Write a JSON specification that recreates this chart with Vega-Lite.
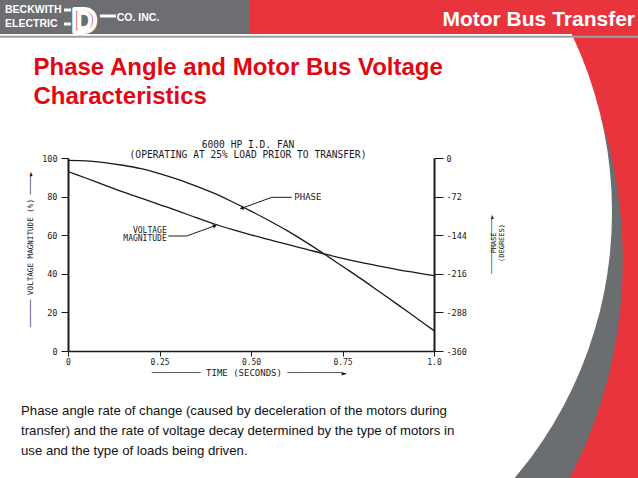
{
  "$schema": "https://vega.github.io/schema/vega-lite/v6.json",
  "width": 366,
  "height": 193,
  "autosize": "none",
  "padding": {"left": 68, "top": 158, "right": 204, "bottom": 127},
  "background": "#e8343c",
  "config": {"view": {"stroke": null}},
  "datasets": {
    "curves": [
      {"t": 0.0, "voltage": 93.0, "phase": -4.5},
      {"t": 0.05, "voltage": 89.5, "phase": -5.5},
      {"t": 0.1, "voltage": 86.0, "phase": -8.5},
      {"t": 0.15, "voltage": 82.5, "phase": -13.5},
      {"t": 0.2, "voltage": 79.2, "phase": -20},
      {"t": 0.25, "voltage": 75.9, "phase": -29},
      {"t": 0.3, "voltage": 72.6, "phase": -40},
      {"t": 0.35, "voltage": 69.1, "phase": -52.5},
      {"t": 0.4, "voltage": 65.8, "phase": -66},
      {"t": 0.45, "voltage": 62.9, "phase": -82},
      {"t": 0.5, "voltage": 60.2, "phase": -99},
      {"t": 0.55, "voltage": 57.7, "phase": -117},
      {"t": 0.6, "voltage": 55.2, "phase": -136},
      {"t": 0.65, "voltage": 52.8, "phase": -157},
      {"t": 0.7, "voltage": 50.3, "phase": -179},
      {"t": 0.75, "voltage": 48.0, "phase": -202},
      {"t": 0.8, "voltage": 45.9, "phase": -225},
      {"t": 0.85, "voltage": 44.0, "phase": -249},
      {"t": 0.9, "voltage": 42.2, "phase": -273},
      {"t": 0.95, "voltage": 40.6, "phase": -297.5},
      {"t": 1.0, "voltage": 39.0, "phase": -322}
    ],
    "leaders": [
      {"leader": "phase", "t": 0.4746, "v": 73.93},
      {"leader": "phase", "t": 0.5566, "v": 79.63},
      {"leader": "phase", "t": 0.6112, "v": 79.63},
      {"leader": "voltage", "t": 0.274, "v": 59.59},
      {"leader": "voltage", "t": 0.3243, "v": 59.59},
      {"leader": "voltage", "t": 0.4016, "v": 64.92}
    ],
    "tips": [
      {"leader": "phase", "t": 0.4746, "v": 73.93},
      {"leader": "voltage", "t": 0.4016, "v": 64.92}
    ]
  },
  "layer": [
    {
      "layer": [
        {
          "data": {"name": "curves"},
          "mark": {"type": "line", "color": "#1a1a1a", "strokeWidth": 1.3, "interpolate": "monotone", "opacity": 0},
          "encoding": {
            "x": {
              "field": "t",
              "type": "quantitative",
              "scale": {"domain": [0, 1], "nice": false, "zero": false},
              "axis": {
                "values": [0, 0.25, 0.5, 0.75, 1],
                "labelExpr": "datum.value == 0 ? '0' : datum.value == 1 ? '1.0' : format(datum.value, '.2f')",
                "labelFlush": false,
                "labelOverlap": false,
                "labelFont": "DejaVu Sans Mono",
                "labelFontSize": 8,
                "labelColor": "#1a1a1a",
                "labelPadding": 2,
                "tickSize": 5,
                "tickColor": "#1a1a1a",
                "domainColor": "#1a1a1a",
                "domainWidth": 1.5,
                "grid": false,
                "zindex": 1,
                "title": "───────── TIME (SECONDS) ──────────►",
                "titleFont": "DejaVu Sans Mono",
                "titleFontSize": 9,
                "titleFontWeight": "normal",
                "titleColor": "#1a1a1a",
                "titleX": 180.9,
                "titleY": 21,
                "titleAlign": "center",
                "titleBaseline": "middle"
              }
            },
            "y": {
              "field": "voltage",
              "type": "quantitative",
              "scale": {"domain": [0, 100], "nice": false, "zero": false},
              "axis": null
            }
          }
        },
        {
          "data": {"values": [{}]},
          "mark": {"type": "point", "shape": "circle", "filled": true, "size": 901740, "color": "#6b6e71", "opacity": 1, "strokeWidth": 0},
          "encoding": {
            "x": {"datum": 0.2186, "type": "quantitative"},
            "y": {"datum": 47.15, "type": "quantitative", "axis": null}
          }
        },
        {
          "data": {"values": [{}]},
          "mark": {"type": "point", "shape": "circle", "filled": true, "size": 678976, "color": "#ffffff", "opacity": 1, "strokeWidth": 0},
          "encoding": {
            "x": {"datum": 0.3607, "type": "quantitative"},
            "y": {"datum": 72.02, "type": "quantitative", "axis": null}
          }
        },
        {
          "data": {"values": [{}]},
          "mark": {"type": "rect", "color": "#e8343c"},
          "encoding": {
            "x": {"datum": -0.2, "type": "quantitative"},
            "x2": {"datum": 1.6},
            "y": {"datum": 185, "type": "quantitative", "axis": null},
            "y2": {"datum": 164.25}
          }
        },
        {
          "data": {"values": [{}]},
          "mark": {"type": "rect", "color": "#6d6e71"},
          "encoding": {
            "x": {"datum": -0.2, "type": "quantitative"},
            "x2": {"datum": 0.4973},
            "y": {"datum": 185, "type": "quantitative", "axis": null},
            "y2": {"datum": 164.25}
          }
        },
        {
          "data": {"values": [{}]},
          "mark": {"type": "rule", "color": "#9d9fa2", "strokeWidth": 2},
          "encoding": {
            "x": {"datum": -0.2, "type": "quantitative"},
            "x2": {"datum": 1.6},
            "y": {"datum": 162.85, "type": "quantitative", "axis": null}
          }
        },
        {
          "data": {"values": [{"y": 176.68, "x0": -0.0109, "x1": 0.0082}, {"y": 169.43, "x0": -0.0109, "x1": 0.0082}, {"y": 173.58, "x0": 0.0874, "x1": 0.1311}]},
          "mark": {"type": "rule", "color": "#ffffff", "strokeWidth": 3},
          "encoding": {
            "x": {"field": "x0", "type": "quantitative"},
            "x2": {"field": "x1"},
            "y": {"field": "y", "type": "quantitative", "axis": null}
          }
        },
        {
          "data": {"values": [{}]},
          "mark": {"type": "text", "text": "D", "align": "left", "baseline": "alphabetic", "font": "Liberation Sans", "fontSize": 34, "fontWeight": "bold", "color": "#e8343c", "stroke": "#ffffff", "strokeWidth": 4, "strokeJoin": "round"},
          "encoding": {
            "x": {"datum": 0.0109, "type": "quantitative"},
            "y": {"datum": 165.54, "type": "quantitative", "axis": null}
          }
        },
        {
          "data": {"values": [{}]},
          "mark": {"type": "text", "text": "BECKWITH", "align": "left", "baseline": "alphabetic", "font": "Liberation Sans", "fontSize": 10.5, "fontWeight": "bold", "color": "#ffffff"},
          "encoding": {
            "x": {"datum": -0.1721, "type": "quantitative"},
            "y": {"datum": 174.97, "type": "quantitative", "axis": null}
          }
        },
        {
          "data": {"values": [{}]},
          "mark": {"type": "text", "text": "ELECTRIC", "align": "left", "baseline": "alphabetic", "font": "Liberation Sans", "fontSize": 10.5, "fontWeight": "bold", "color": "#ffffff"},
          "encoding": {
            "x": {"datum": -0.1721, "type": "quantitative"},
            "y": {"datum": 167.72, "type": "quantitative", "axis": null}
          }
        },
        {
          "data": {"values": [{}]},
          "mark": {"type": "text", "text": "CO. INC.", "align": "left", "baseline": "alphabetic", "font": "Liberation Sans", "fontSize": 10.5, "fontWeight": "bold", "color": "#ffffff"},
          "encoding": {
            "x": {"datum": 0.1331, "type": "quantitative"},
            "y": {"datum": 171.14, "type": "quantitative", "axis": null}
          }
        },
        {
          "data": {"values": [{}]},
          "mark": {"type": "text", "text": "Motor Bus Transfer", "align": "right", "baseline": "alphabetic", "font": "Liberation Sans", "fontSize": 21, "fontWeight": "bold", "color": "#ffffff"},
          "encoding": {
            "x": {"datum": 1.5492, "type": "quantitative"},
            "y": {"datum": 168.39, "type": "quantitative", "axis": null}
          }
        },
        {
          "data": {"values": [{}]},
          "mark": {"type": "text", "text": ["Phase Angle and Motor Bus Voltage", "Characteristics"], "align": "left", "baseline": "alphabetic", "lineHeight": 29, "font": "Liberation Sans", "fontSize": 24, "fontWeight": "bold", "color": "#e30613"},
          "encoding": {
            "x": {"datum": -0.0943, "type": "quantitative"},
            "y": {"datum": 143.01, "type": "quantitative", "axis": null}
          }
        },
        {
          "data": {"values": [{}]},
          "mark": {"type": "text", "text": ["6000 HP I.D. FAN", "(OPERATING AT 25% LOAD PRIOR TO TRANSFER)"], "align": "center", "baseline": "alphabetic", "lineHeight": 10, "font": "DejaVu Sans Mono", "fontSize": 9.6, "color": "#1a1a1a"},
          "encoding": {
            "x": {"datum": 0.4918, "type": "quantitative"},
            "y": {"datum": 105.03, "type": "quantitative", "axis": null}
          }
        },
        {
          "data": {"values": [{}]},
          "mark": {"type": "text", "text": ["Phase angle rate of change (caused by deceleration of the motors during", "transfer) and the rate of voltage decay determined by the type of motors in", "use and the type of loads being driven."], "align": "left", "baseline": "alphabetic", "lineHeight": 20, "font": "Liberation Sans", "fontSize": 13.2, "color": "#111111"},
          "encoding": {
            "x": {"datum": -0.1284, "type": "quantitative"},
            "y": {"datum": -33.16, "type": "quantitative", "axis": null}
          }
        },
        {
          "data": {"name": "leaders"},
          "mark": {"type": "line", "color": "#1a1a1a", "strokeWidth": 1},
          "encoding": {
            "x": {"field": "t", "type": "quantitative"},
            "y": {"field": "v", "type": "quantitative", "axis": null},
            "detail": {"field": "leader"}
          }
        },
        {
          "data": {"name": "tips"},
          "mark": {"type": "point", "filled": true, "size": 22, "angle": 340, "color": "#1a1a1a", "opacity": 1},
          "encoding": {
            "x": {"field": "t", "type": "quantitative"},
            "y": {"field": "v", "type": "quantitative", "axis": null},
            "shape": {"field": "leader", "scale": {"domain": ["phase", "voltage"], "range": ["triangle-left", "triangle-right"]}, "legend": null}
          }
        },
        {
          "data": {"values": [{}]},
          "mark": {"type": "text", "text": "PHASE", "align": "left", "baseline": "middle", "font": "DejaVu Sans Mono", "fontSize": 9, "color": "#1a1a1a"},
          "encoding": {
            "x": {"datum": 0.6183, "type": "quantitative"},
            "y": {"datum": 79.64, "type": "quantitative", "axis": null}
          }
        },
        {
          "data": {"values": [{}]},
          "mark": {"type": "text", "text": ["VOLTAGE", "MAGNITUDE"], "align": "right", "baseline": "alphabetic", "lineHeight": 8.5, "font": "DejaVu Sans Mono", "fontSize": 8, "color": "#1a1a1a"},
          "encoding": {
            "x": {"datum": 0.2697, "type": "quantitative"},
            "y": {"datum": 61.2, "type": "quantitative", "axis": null}
          }
        },
        {
          "data": {"values": [{}]},
          "mark": {"type": "text", "text": "───────         ─────►", "angle": 270, "align": "center", "baseline": "middle", "font": "DejaVu Sans Mono", "fontSize": 7, "color": "#111111"},
          "encoding": {
            "x": {"datum": 1.1577, "type": "quantitative"},
            "y": {"datum": 55.34, "type": "quantitative", "axis": null}
          }
        },
        {
          "data": {"name": "curves"},
          "mark": {"type": "line", "color": "#1a1a1a", "strokeWidth": 1.3, "interpolate": "monotone"},
          "encoding": {
            "x": {"field": "t", "type": "quantitative"},
            "y": {"field": "voltage", "type": "quantitative", "axis": null}
          }
        }
      ]
    },
    {
      "data": {"name": "curves"},
      "mark": {"type": "line", "color": "#1a1a1a", "strokeWidth": 1.3, "interpolate": "monotone"},
      "encoding": {
        "x": {"field": "t", "type": "quantitative", "scale": {"domain": [0, 1], "nice": false, "zero": false}},
        "y": {
          "field": "phase",
          "type": "quantitative",
          "scale": {"domain": [-360, 0], "nice": false, "zero": false},
          "axis": {
            "orient": "right",
            "values": [0, -72, -144, -216, -288, -360],
            "labelExpr": "datum.value == 0 ? '0' : '-' + abs(datum.value)",
            "labelOverlap": false,
            "labelFont": "DejaVu Sans Mono",
            "labelFontSize": 8.5,
            "labelColor": "#1a1a1a",
            "labelPadding": 3,
            "tickSize": 9,
            "tickColor": "#1a1a1a",
            "domainColor": "#1a1a1a",
            "domainWidth": 2,
            "grid": false,
            "zindex": 1,
            "title": ["PHASE", "(DEGREES)"],
            "titleFont": "DejaVu Sans Mono",
            "titleFontSize": 7,
            "titleFontWeight": "normal",
            "titleColor": "#111111",
            "titleLineHeight": 8.5,
            "titleAngle": -90,
            "titleX": 59,
            "titleY": 84.5,
            "titleAlign": "center",
            "titleBaseline": "middle"
          }
        }
      }
    },
    {
      "data": {"name": "curves"},
      "mark": {"type": "line", "opacity": 0},
      "encoding": {
        "x": {"field": "t", "type": "quantitative", "scale": {"domain": [0, 1], "nice": false, "zero": false}},
        "y": {
          "field": "voltage",
          "type": "quantitative",
          "scale": {"domain": [0, 100], "nice": false, "zero": false},
          "axis": {
            "orient": "left",
            "values": [0, 20, 40, 60, 80, 100],
            "labelOverlap": false,
            "labelFont": "DejaVu Sans Mono",
            "labelFontSize": 8.5,
            "labelColor": "#1a1a1a",
            "labelPadding": 4,
            "tickSize": 7,
            "tickColor": "#1a1a1a",
            "domainColor": "#1a1a1a",
            "domainWidth": 2,
            "grid": false,
            "zindex": 1,
            "title": "────── VOLTAGE MAGNITUDE (%) ────►",
            "titleFont": "DejaVu Sans Mono",
            "titleFontSize": 7.6,
            "titleFontWeight": "normal",
            "titleColor": "#111111",
            "titleAngle": -90,
            "titleX": -37.3,
            "titleY": 90.8,
            "titleAlign": "center",
            "titleBaseline": "middle"
          }
        }
      }
    }
  ],
  "resolve": {"scale": {"y": "independent"}}
}
